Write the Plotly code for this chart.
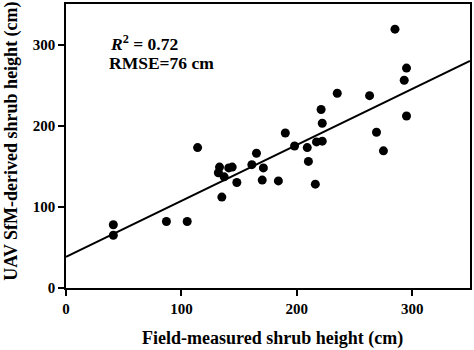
import plotly.graph_objects as go

# Field-measured (x) vs UAV SfM-derived (y) shrub heights, cm
field_cm = [41, 41, 87, 105, 114, 133, 132, 137, 135, 141, 144, 148, 161, 165, 171, 170,
            184, 190, 198, 209, 210, 216, 217, 221, 222, 222, 235, 263, 269, 275, 285,
            293, 295, 295]
uav_cm = [78, 65, 82, 82, 173, 149, 142, 137, 112, 148, 149, 130, 152, 166, 148, 133,
          132, 191, 175, 173, 156, 128, 180, 220, 181, 203, 240, 237, 192, 169, 319,
          256, 271, 212]

fit_intercept = 38.5
fit_slope = 0.69
fit_x = [0, 350]
fit_y = [fit_intercept + fit_slope * v for v in fit_x]

x_ticks = [0, 100, 200, 300]
y_ticks = [0, 100, 200, 300]

font_family = "Liberation Serif, Times New Roman, serif"

fig = go.Figure()
fig.add_trace(go.Scatter(x=fit_x, y=fit_y, mode="lines",
                         line=dict(color="black", width=2), showlegend=False,
                         hoverinfo="skip"))
fig.add_trace(go.Scatter(x=field_cm, y=uav_cm, mode="markers",
                         marker=dict(color="black", size=9), showlegend=False))

fig.add_annotation(x=0, y=1, xref="paper", yref="paper",
                   text="<b><i>R</i><sup>2</sup> = 0.72</b>",
                   xanchor="left", yanchor="middle", showarrow=False,
                   xshift=42, yshift=-39,
                   font=dict(family=font_family, size=17.5, color="black"))
fig.add_annotation(x=0, y=1, xref="paper", yref="paper",
                   text="<b>RMSE=76 cm</b>",
                   xanchor="left", yanchor="middle", showarrow=False,
                   xshift=41, yshift=-59,
                   font=dict(family=font_family, size=17.5, color="black"))

# axis titles (placed as text to match reference positions)
fig.add_annotation(x=0, y=0.515, xref="paper", yref="paper",
                   text="<b>UAV SfM-derived shrub height (cm)</b>",
                   textangle=-90, xanchor="center", yanchor="middle",
                   showarrow=False, xshift=-54,
                   font=dict(family=font_family, size=18, color="black"))
fig.add_annotation(x=0.5, y=0, xref="paper", yref="paper",
                   text="<b>Field-measured shrub height (cm)</b>",
                   xanchor="center", yanchor="middle",
                   showarrow=False, yshift=-50, xshift=4,
                   font=dict(family=font_family, size=18, color="black"))

axis_common = dict(showline=True, linecolor="black", linewidth=1.5, mirror=True,
                   ticks="outside", ticklen=6, tickwidth=1.5, tickcolor="black",
                   showgrid=False, zeroline=False, automargin=False,
                   tickfont=dict(family=font_family, size=15, color="black", weight="bold"))

fig.update_layout(
    width=474, height=350,
    margin=dict(l=66, r=4, t=4, b=62),
    paper_bgcolor="white", plot_bgcolor="white",
    font=dict(family=font_family, color="black"),
    xaxis=dict(range=[0, 350], tickvals=x_ticks, **axis_common),
    yaxis=dict(range=[0, 350], tickvals=y_ticks, **axis_common),
)

fig.write_html("out.html")
